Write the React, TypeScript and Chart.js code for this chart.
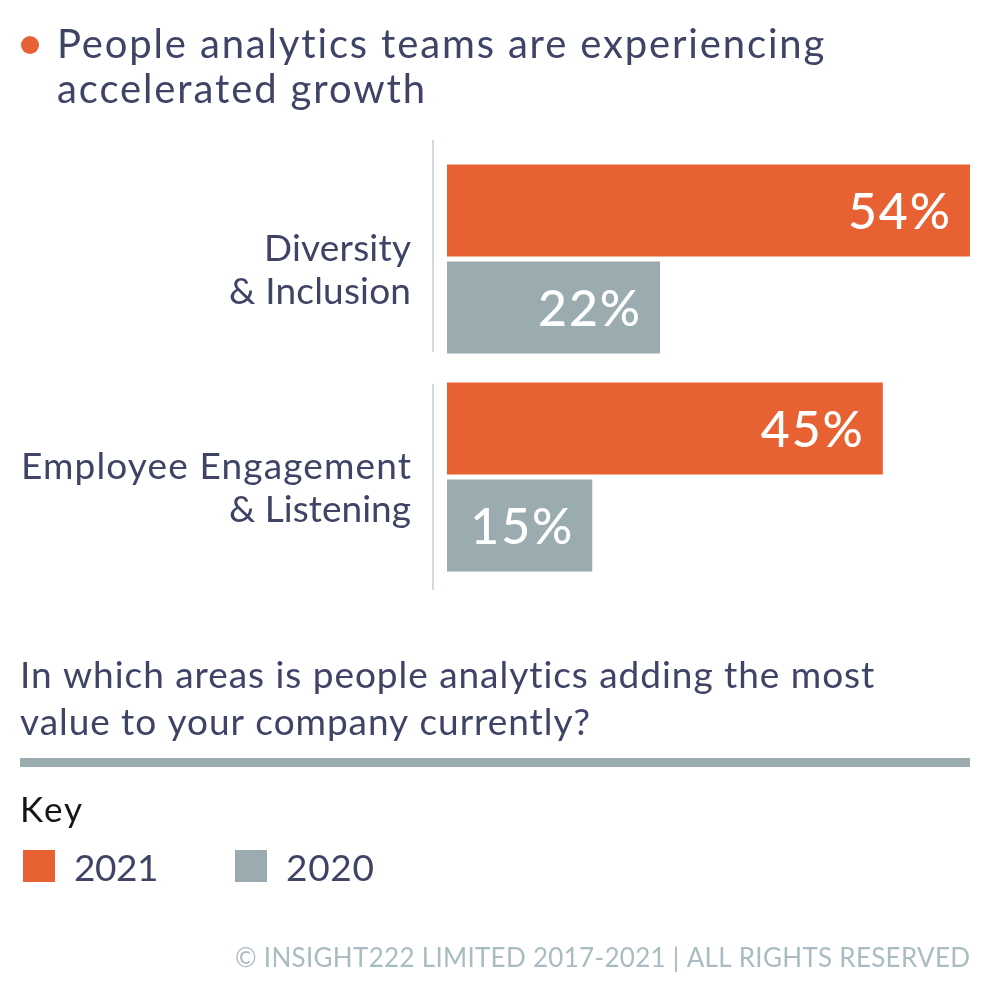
import React, { useEffect, useRef } from "react";
import { Chart, registerables } from "chart.js";

Chart.register(...registerables);

// Survey data
const categories: string[][] = [
  ["Diversity", "& Inclusion"],
  ["Employee Engagement", "& Listening"],
];
const seriesLabels = ["2021", "2020"];
const values2021 = [54, 45];
const values2020 = [22, 15];
const axisMax = 54;

const title = ["People analytics teams are experiencing", "accelerated growth"];
const question = [
  "In which areas is people analytics adding the most",
  "value to your company currently?",
];
const keyLabel = "Key";
const footer = "\u00A9 INSIGHT222 LIMITED 2017-2021 | ALL RIGHTS RESERVED";

const ORANGE = "#E86132";
const GREY = "#9AACB0";
const NAVY = "#3F4466";
const FONT = "Lato, 'Noto Sans', sans-serif";

// Draws text spread to a given width (adjusted tracking), anchored left or right.
function drawSpread(
  ctx: CanvasRenderingContext2D,
  text: string,
  x: number,
  y: number,
  width: number,
  align: "left" | "right"
) {
  const c: any = ctx;
  c.letterSpacing = "0px";
  const w0 = ctx.measureText(text).width;
  const n = Array.from(text).length;
  const sp = n > 1 ? Math.max(-0.5, (width - w0) / (n - 1)) : 0;
  c.letterSpacing = `${sp}px`;
  const drawn = w0 + sp * (n - 1);
  const left = align === "left" ? x : x - drawn;
  const prev = ctx.textAlign;
  ctx.textAlign = "left";
  ctx.fillText(text, left, y);
  ctx.textAlign = prev;
  c.letterSpacing = "0px";
}

const titleWidths = [768, 368];
const categoryWidths = [
  [147, 182],
  [390, 182],
];
const questionWidths = [855, 570];
const legendWidths = [80, 88];

const decorations = {
  id: "decorations",
  afterDatasetsDraw(chart: any) {
    const ctx: CanvasRenderingContext2D = chart.ctx;
    const yScale = chart.scales.y;
    const area = chart.chartArea;
    ctx.save();

    // Value labels inside each bar
    ctx.fillStyle = "#FFFFFF";
    ctx.font = `500 50px ${FONT}`;
    ctx.textBaseline = "middle";
    chart.data.datasets.forEach((ds: any, di: number) => {
      const meta = chart.getDatasetMeta(di);
      meta.data.forEach((bar: any, i: number) => {
        drawSpread(ctx, `${ds.data[i]}%`, bar.x - 20, bar.y + 2, 102, "right");
      });
    });

    // Category labels and separator lines
    const band = (area.bottom - area.top) / categories.length;
    categories.forEach((lines, i) => {
      const cy = yScale.getPixelForValue(i);
      ctx.fillStyle = NAVY;
      ctx.font = `400 37px ${FONT}`;
      ctx.textBaseline = "middle";
      lines.forEach((t, li) =>
        drawSpread(ctx, t, 411, cy - 10 + li * 43, categoryWidths[i][li], "right")
      );
      ctx.strokeStyle = "#D3D8DB";
      ctx.lineWidth = 2;
      ctx.beginPath();
      const top = i === 0 ? cy - band / 2 - 10 : cy - band / 2 + 16;
      const bottom = i === 0 ? cy + band / 2 - 16 : cy + band / 2 + 4;
      ctx.moveTo(433, top);
      ctx.lineTo(433, bottom);
      ctx.stroke();
    });

    // Title with bullet
    ctx.fillStyle = ORANGE;
    ctx.beginPath();
    ctx.arc(30, 45, 9, 0, Math.PI * 2);
    ctx.fill();
    ctx.fillStyle = NAVY;
    ctx.font = `400 40px ${FONT}`;
    ctx.textBaseline = "alphabetic";
    title.forEach((t, li) => drawSpread(ctx, t, 57, 58 + li * 45, titleWidths[li], "left"));

    // Question
    ctx.font = `400 37px ${FONT}`;
    question.forEach((t, li) => drawSpread(ctx, t, 20, 688 + li * 47, questionWidths[li], "left"));

    // Divider
    ctx.fillStyle = GREY;
    ctx.fillRect(20, 758, 950, 9);

    // Key
    ctx.fillStyle = "#151515";
    ctx.font = `400 35px ${FONT}`;
    drawSpread(ctx, keyLabel, 20, 822, 62, "left");

    const keyX = [23, 235];
    chart.data.datasets.forEach((ds: any, di: number) => {
      ctx.fillStyle = ds.backgroundColor;
      ctx.fillRect(keyX[di], 850, 32, 32);
      ctx.fillStyle = NAVY;
      ctx.font = `400 37px ${FONT}`;
      drawSpread(ctx, ds.label, keyX[di] + 51, 881, legendWidths[di], "left");
    });

    // Footer
    ctx.fillStyle = "#A9BCC1";
    ctx.font = `400 26px ${FONT}`;
    drawSpread(ctx, footer, 970, 967, 735, "right");

    ctx.restore();
  },
};

export default function App() {
  const ref = useRef<HTMLCanvasElement>(null);

  useEffect(() => {
    if (!ref.current) return;
    const chart = new Chart(ref.current, {
      type: "bar",
      data: {
        labels: categories.map((c) => c.join(" ")),
        datasets: [
          {
            label: seriesLabels[0],
            data: values2021,
            backgroundColor: ORANGE,
            categoryPercentage: 0.89,
            barPercentage: 0.95,
          },
          {
            label: seriesLabels[1],
            data: values2020,
            backgroundColor: GREY,
            categoryPercentage: 0.89,
            barPercentage: 0.95,
          },
        ],
      },
      options: {
        indexAxis: "y",
        animation: false,
        responsive: false,
        layout: { padding: { left: 447, right: 30, top: 150, bottom: 414 } },
        scales: {
          x: { display: false, min: 0, max: axisMax },
          y: { display: false },
        },
        plugins: {
          legend: { display: false },
          tooltip: { enabled: false },
        },
      },
      plugins: [decorations],
    });
    return () => chart.destroy();
  }, []);

  return (
    <div style={{ position: "absolute", left: 0, top: 0, width: 1000, height: 1000, background: "#fff" }}>
      <canvas ref={ref} width={1000} height={1000} />
    </div>
  );
}
